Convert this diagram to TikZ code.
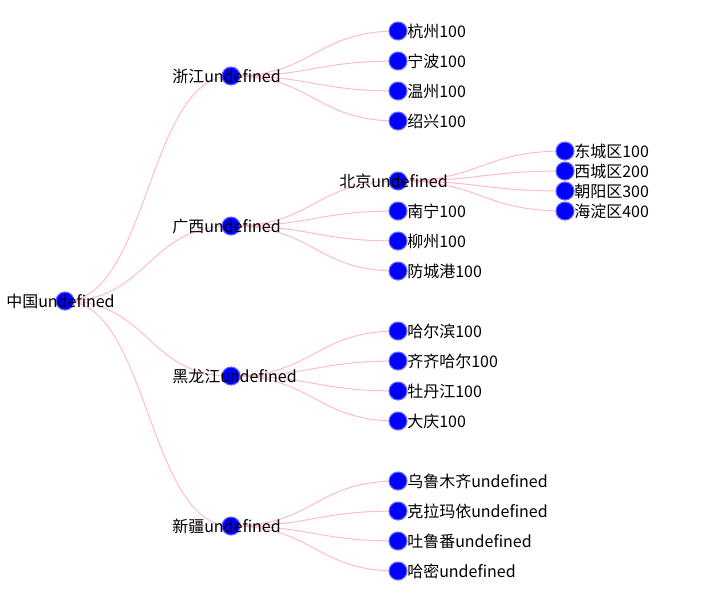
\documentclass[tikz,border=0pt]{standalone}
\usepackage{fontspec}
\setmainfont{Noto Sans CJK SC}
\usetikzlibrary{backgrounds}
\begin{document}
\begin{tikzpicture}[x=0.75pt,y=-0.75pt,
  dot/.style={circle,fill=blue,draw=blue!60,line width=0.8pt,minimum size=13.5pt,inner sep=0pt},
  lbl/.style={font=\fontsize{12pt}{14pt}\selectfont,inner sep=0pt,text=black},
  link/.style={draw={rgb,255:red,255;green,185;blue,200},line width=0.7pt}]
\useasboundingbox (0,0) rectangle (723,594);
% nodes
\newcommand\inner[4]{\node[dot] (#1) at (#2,#3) {}; \node[lbl,anchor=west] (#1t) at (#2-59,#3) {#4};}
\newcommand\leaf[4]{\node[dot] (#1) at (#2,#3) {}; \node[lbl,anchor=west] (#1t) at (#2+9,#3) {#4};}
\inner{r}{65}{301}{中国undefined}
\inner{zj}{231}{76}{浙江undefined}
\inner{gx}{231}{226}{广西undefined}
\inner{hl}{231}{376}{黑龙江undefined}
\inner{xj}{231}{526}{新疆undefined}
\leaf{a1}{398}{31}{杭州100}
\leaf{a2}{398}{61}{宁波100}
\leaf{a3}{398}{91}{温州100}
\leaf{a4}{398}{121}{绍兴100}
\inner{bj}{398}{181}{北京undefined}
\leaf{b2}{398}{211}{南宁100}
\leaf{b3}{398}{241}{柳州100}
\leaf{b4}{398}{271}{防城港100}
\leaf{c1}{398}{331}{哈尔滨100}
\leaf{c2}{398}{361}{齐齐哈尔100}
\leaf{c3}{398}{391}{牡丹江100}
\leaf{c4}{398}{421}{大庆100}
\leaf{d1}{398}{481}{乌鲁木齐undefined}
\leaf{d2}{398}{511}{克拉玛依undefined}
\leaf{d3}{398}{541}{吐鲁番undefined}
\leaf{d4}{398}{571}{哈密undefined}
\leaf{e1}{565}{151}{东城区100}
\leaf{e2}{565}{171}{西城区200}
\leaf{e3}{565}{191}{朝阳区300}
\leaf{e4}{565}{211}{海淀区400}
\begin{pgfonlayer}{background}
\foreach \p/\c in {r/zj,r/gx,r/hl,r/xj,zj/a1,zj/a2,zj/a3,zj/a4,gx/bj,gx/b2,gx/b3,gx/b4,hl/c1,hl/c2,hl/c3,hl/c4,xj/d1,xj/d2,xj/d3,xj/d4,bj/e1,bj/e2,bj/e3,bj/e4}
  \draw[link] (\p.center) .. controls +(83.5,0) and +(-83.5,0) .. (\c.center);
\end{pgfonlayer}
\end{tikzpicture}
\end{document}
